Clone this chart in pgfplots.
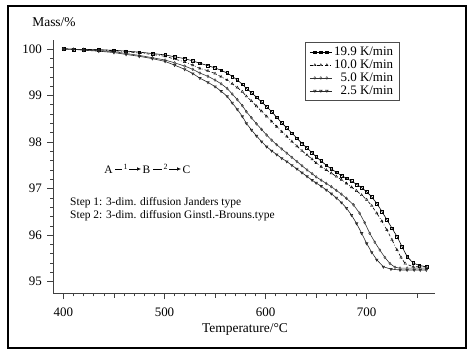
\documentclass[border=0pt]{standalone}
\usepackage{fontspec}
\setmainfont{Liberation Serif}
\usepackage{pgfplots}
\pgfplotsset{compat=1.18}
\usetikzlibrary{arrows.meta}
\begin{document}
\begin{tikzpicture}[x=1bp,y=1bp]
\useasboundingbox (0,0) rectangle (474,355);
\draw[line width=2bp] (8.3,7.3) rectangle (465.7,349);
\begin{axis}[
  at={(53.3bp,61.7bp)}, anchor=south west,
  scale only axis, width=381.7bp, height=253.3bp,
  xmin=390, xmax=767.6, ymin=94.75, ymax=100.19,
  axis x line*=bottom, axis y line*=left,
  axis line style={-, line width=0.6pt, black!75},
  tick align=outside,
  xtick={400,500,600,700}, minor x tick num=9,
  extra x ticks={450,550,650,750}, extra x tick labels={},
  extra x tick style={major tick length=4.5bp},
  ytick={95,96,97,98,99,100}, minor y tick num=4,
  major tick length=6bp, minor tick length=3bp,
  tick style={line width=0.5pt, black!75},
  /pgf/number format/assume math mode=true,
  ticklabel style={font=\fontsize{13}{15}\selectfont},
  xticklabel style={yshift=-5bp},
  yticklabel style={xshift=-2bp},
  legend style={at={(rel axis cs:0.66,0.993)}, anchor=north west,
    draw=black!70, line width=0.8pt, font=\fontsize{13}{15}\selectfont,
    inner xsep=4pt, inner ysep=3pt, row sep=-1.2pt},
  legend cell align=right,
  legend image code/.code={\draw[#1, line width=0.5pt] (0bp,0bp) -- (22bp,0bp);
     \draw[#1, only marks] plot coordinates {(5bp,0bp) (11bp,0bp) (17bp,0bp)};},
  every axis plot/.append style={line width=0.6pt, mark size=1.4pt, mark options={solid, fill=white, line width=0.4pt}},
]
\addplot[black, mark=square] coordinates {
(400,100.00)(410,99.99)(420,99.99)(435,99.98)(450,99.97)(462,99.95)(475,99.93)(488,99.90)(500.6,99.87)(510,99.83)(520,99.79)(528,99.74)(535,99.69)(543,99.64)(550,99.59)(556,99.54)(562,99.48)(567,99.41)(572,99.33)(577,99.24)(581,99.15)(586,99.06)(591,98.96)(596,98.86)(601,98.76)(606,98.65)(611,98.53)(616,98.41)(621,98.30)(626,98.19)(631,98.08)(636,97.97)(641,97.87)(646,97.77)(650,97.68)(655,97.59)(660,97.50)(665,97.42)(670,97.35)(675,97.28)(680,97.22)(685,97.16)(690,97.09)(695,97.02)(700,96.93)(705,96.82)(710,96.68)(715,96.51)(720,96.33)(725,96.15)(730,95.97)(735,95.75)(740,95.54)(746,95.40)(752,95.35)(759,95.32)};
\addlegendentry{19.9 K/min}
\addplot[black, mark=triangle, dash dot] coordinates {
(400,100.00)(410,99.99)(420,99.99)(435,99.98)(450,99.96)(462,99.94)(475,99.91)(488,99.88)(500.6,99.84)(510,99.78)(520,99.72)(528,99.65)(535,99.58)(543,99.53)(550,99.47)(556,99.40)(562,99.33)(567,99.25)(572,99.17)(577,99.08)(581,98.98)(586,98.88)(591,98.77)(596,98.66)(601,98.55)(606,98.44)(611,98.33)(616,98.22)(621,98.12)(626,98.01)(631,97.91)(636,97.81)(641,97.72)(646,97.63)(650,97.55)(655,97.47)(660,97.40)(665,97.33)(670,97.26)(675,97.19)(680,97.11)(685,97.03)(690,96.95)(695,96.86)(700,96.76)(705,96.63)(710,96.47)(715,96.30)(720,96.11)(725,95.90)(730,95.68)(734,95.52)(738,95.39)(746,95.32)(752,95.32)(759,95.32)};
\addlegendentry{10.0 K/min}
\addplot[black!80, mark=diamond] coordinates {
(400,100.00)(410,99.99)(420,99.98)(435,99.96)(450,99.94)(462,99.90)(475,99.86)(488,99.81)(500.6,99.76)(510,99.70)(520,99.63)(528,99.56)(535,99.48)(543,99.41)(550,99.33)(556,99.25)(562,99.15)(567,99.03)(572,98.91)(577,98.78)(581,98.65)(586,98.52)(591,98.39)(596,98.27)(601,98.15)(606,98.04)(611,97.94)(616,97.85)(621,97.76)(626,97.67)(631,97.58)(636,97.49)(641,97.40)(646,97.32)(650,97.25)(655,97.18)(660,97.11)(665,97.04)(670,96.96)(675,96.88)(680,96.79)(687,96.65)(693,96.47)(698,96.27)(703,96.04)(708,95.85)(713,95.68)(718,95.52)(723,95.39)(728,95.31)(733,95.29)(740,95.29)(747,95.29)(753,95.29)(759,95.29)};
\addlegendentry{5.0 K/min}
\addplot[black!85, mark=triangle, mark options={rotate=180}] coordinates {
(400,100.00)(410,99.99)(420,99.97)(435,99.95)(450,99.92)(462,99.88)(475,99.84)(488,99.79)(500.6,99.73)(510,99.65)(520,99.56)(528,99.47)(535,99.37)(543,99.28)(550,99.19)(556,99.09)(562,98.98)(567,98.84)(572,98.70)(577,98.55)(581,98.40)(586,98.26)(591,98.13)(596,98.01)(601,97.90)(606,97.81)(611,97.73)(616,97.65)(621,97.58)(626,97.50)(631,97.42)(636,97.34)(641,97.26)(646,97.18)(650,97.12)(655,97.05)(660,96.97)(665,96.89)(670,96.80)(675,96.70)(680,96.58)(685,96.43)(690,96.25)(695,96.04)(700,95.82)(705,95.63)(710,95.47)(716.5,95.32)(724,95.27)(733,95.25)(740,95.25)(747,95.25)(753,95.25)(759,95.25)};
\addlegendentry{2.5 K/min}
\end{axis}
\node[font=\fontsize{13.5}{15}\selectfont] at (54,333) {Mass/\%};
\node[font=\fontsize{13.5}{15}\selectfont] at (245,26) {Temperature/°C};
\begin{scope}[font=\fontsize{11.5}{13}\selectfont]
\node[anchor=base] at (108.5,182) {A};
\draw[line width=0.5pt] (115,186) -- (122,186);
\node[font=\fontsize{8}{9}\selectfont, inner sep=0pt] at (125.5,188.5) {1};
\draw[line width=0.5pt, -{Latex[length=4bp,width=3.5bp]}] (129,186) -- (141,186);
\node[anchor=base] at (146.5,182) {B};
\draw[line width=0.5pt] (153,186) -- (162,186);
\node[font=\fontsize{8}{9}\selectfont, inner sep=0pt] at (165.5,188.5) {2};
\draw[line width=0.5pt, -{Latex[length=4bp,width=3.5bp]}] (169,186) -- (181,186);
\node[anchor=base] at (186.5,182) {C};
\node[anchor=west, inner sep=0pt] at (70,152.7) {Step 1: 3-dim. diffusion Janders type};
\node[anchor=west, inner sep=0pt] at (70,139.7) {Step 2: 3-dim. diffusion Ginstl.-Brouns.type};
\end{scope}
\end{tikzpicture}
\end{document}
